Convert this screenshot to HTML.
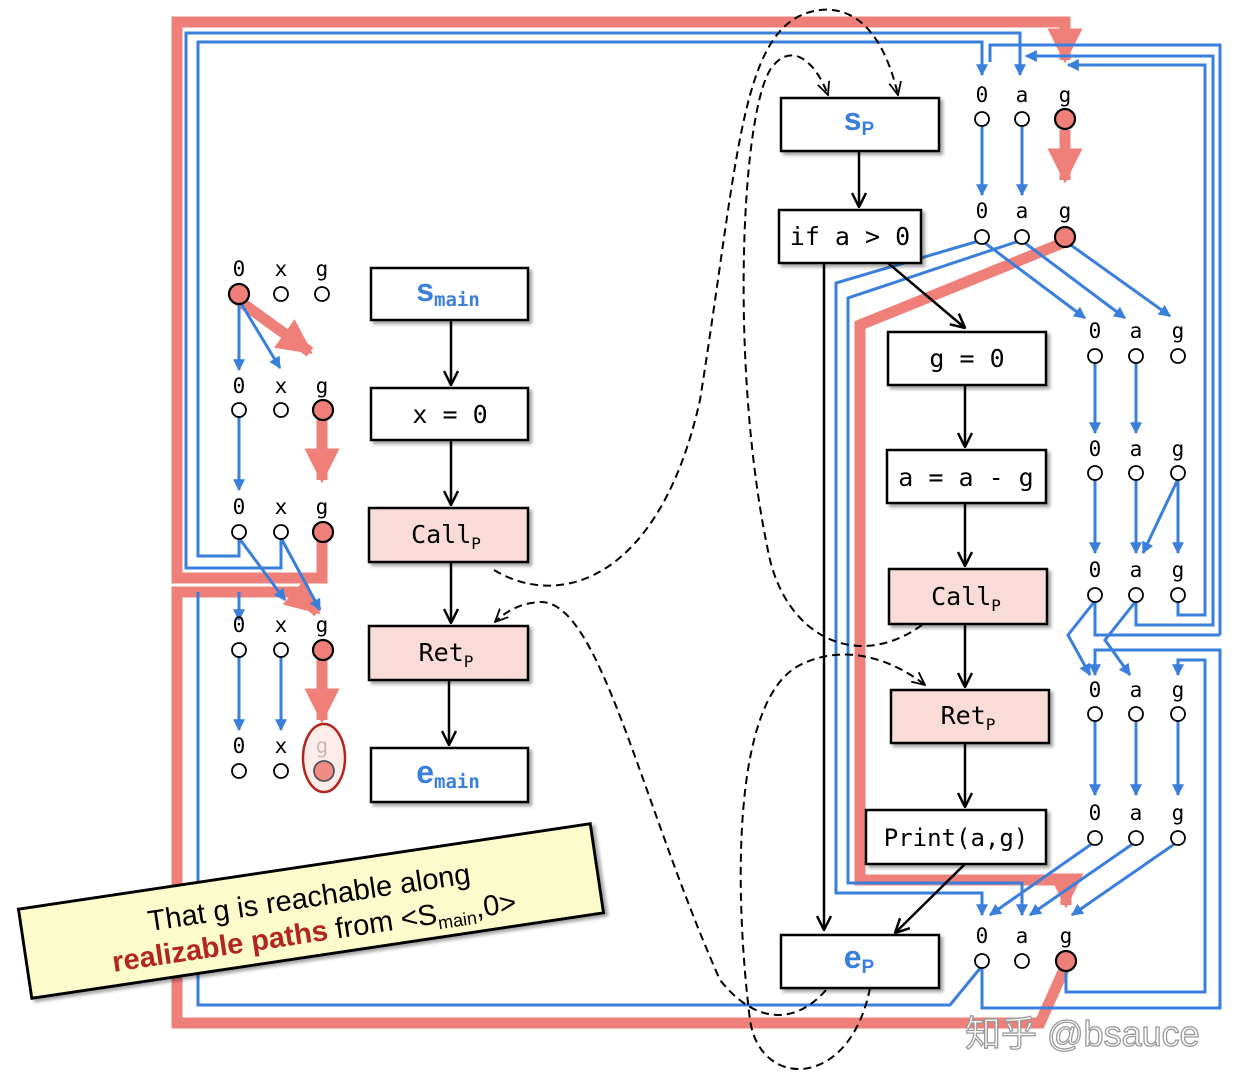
<!DOCTYPE html>
<html><head><meta charset="utf-8"><style>
html,body{margin:0;padding:0;background:#fff;}
svg{display:block;font-family:"Liberation Sans","DejaVu Sans",sans-serif;}
.m{font-family:"DejaVu Sans Mono","Liberation Mono",monospace;}
.sl{font-family:"Liberation Sans",sans-serif;font-weight:bold;fill:#3a7fdc;}
</style></head><body>
<svg width="1240" height="1084" viewBox="0 0 1240 1084" xmlns="http://www.w3.org/2000/svg">
<defs>
<marker id="b" viewBox="0 0 10 10" refX="9" refY="5" markerWidth="4" markerHeight="4" orient="auto"><path d="M0,0L10,5L0,10z" fill="#3a7fdc"/></marker>
<marker id="k" viewBox="0 0 16 16" refX="15" refY="8" markerWidth="16" markerHeight="16" markerUnits="userSpaceOnUse" orient="auto"><path d="M1,1L15,8L1,15" fill="none" stroke="#000" stroke-width="2.5"/></marker>
<marker id="kb" viewBox="0 0 14 14" refX="13" refY="7" markerWidth="14" markerHeight="14" markerUnits="userSpaceOnUse" orient="auto"><path d="M0,1L13,7L0,13" fill="none" stroke="#000" stroke-width="1.8"/></marker>
<marker id="r" viewBox="0 0 10 10" refX="9" refY="5" markerWidth="3.2" markerHeight="3.2" orient="auto"><path d="M0,0L10,5L0,10z" fill="#ef8079"/></marker>
<filter id="sh"><feDropShadow dx="3" dy="3" stdDeviation="1.5" flood-color="#000" flood-opacity="0.35"/></filter>
</defs>

<g fill="none" stroke="#ef8079" stroke-width="11" stroke-linejoin="miter">
<path d="M322,540 V578 H177 V22 H1065 V60" marker-end="url(#r)"/>
<path d="M1066,965 L1040,1023 H177 V592 H295 L318,612" marker-end="url(#r)"/>
<path d="M1065,242 L860,325 V880 H1066 V905" marker-end="url(#r)"/>
<path d="M238,300 L310,352" marker-end="url(#r)"/>
<path d="M322,420 V480" marker-end="url(#r)"/>
<path d="M322,660 V720" marker-end="url(#r)"/>
<path d="M1065,130 V180" marker-end="url(#r)"/>
</g>

<g fill="none" stroke="#3a7fdc" stroke-width="3">
<path d="M239,538 V556 H198 V42 H982 V75" marker-end="url(#b)"/>
<path d="M281,538 V568 H186 V33 H1020 V75" marker-end="url(#b)"/>
<path d="M982,966 L950,1005 H198 V592 M239,592 V620" marker-end="url(#b)"/>
<path d="M239,300 V370" marker-end="url(#b)"/>
<path d="M239,300 L280,368" marker-end="url(#b)"/>
<path d="M239,416 V490" marker-end="url(#b)"/>
<path d="M239,538 L285,600" marker-end="url(#b)"/>
<path d="M281,538 L320,610" marker-end="url(#b)"/>
<path d="M239,656 V730" marker-end="url(#b)"/>
<path d="M281,656 V730" marker-end="url(#b)"/>
<path d="M982,125 V195" marker-end="url(#b)"/>
<path d="M1022,125 V195" marker-end="url(#b)"/>
<path d="M985,243 L1085,318" marker-end="url(#b)"/>
<path d="M1025,243 L1125,318" marker-end="url(#b)"/>
<path d="M1068,243 L1170,316" marker-end="url(#b)"/>
<path d="M982,240 L836,283 V893 H982 V915" marker-end="url(#b)"/>
<path d="M1022,240 L848,298 V883 H1022 V915" marker-end="url(#b)"/>
<path d="M1095,362 V433" marker-end="url(#b)"/>
<path d="M1136,362 V433" marker-end="url(#b)"/>
<path d="M1095,479 V553" marker-end="url(#b)"/>
<path d="M1136,479 V553" marker-end="url(#b)"/>
<path d="M1178,479 V553" marker-end="url(#b)"/>
<path d="M1178,479 L1143,553" marker-end="url(#b)"/>
<path d="M1178,601 V615 H1205 V65 H1068" marker-end="url(#b)"/>
<path d="M1136,601 V625 H1213 V56 H1026" marker-end="url(#b)"/>
<path d="M1220,635 V45 H990 V62" />
<path d="M1095,601 V635 H1220"/>
<path d="M1095,601 L1068,635 L1090,675" marker-end="url(#b)"/>
<path d="M1136,601 L1105,640 L1130,675" marker-end="url(#b)"/>
<path d="M982,966 V1008 H1220 V650 H1095 V675" marker-end="url(#b)"/>
<path d="M1066,966 V992 H1205 V660 H1178 V675" marker-end="url(#b)"/>
<path d="M1095,720 V795" marker-end="url(#b)"/>
<path d="M1136,720 V795" marker-end="url(#b)"/>
<path d="M1178,720 V795" marker-end="url(#b)"/>
<path d="M1093,843 L990,915" marker-end="url(#b)"/>
<path d="M1134,843 L1030,915" marker-end="url(#b)"/>
<path d="M1176,843 L1072,915" marker-end="url(#b)"/>
</g>

<g stroke="#000" stroke-width="2.5" fill="none">
<path d="M451,320 V385" marker-end="url(#k)"/>
<path d="M451,440 V505" marker-end="url(#k)"/>
<path d="M451,562 V623" marker-end="url(#k)"/>
<path d="M449,680 V745" marker-end="url(#k)"/>
<path d="M859,151 V207" marker-end="url(#k)"/>
<path d="M888,263 L965,328" marker-end="url(#k)"/>
<path d="M824,263 V930" marker-end="url(#k)"/>
<path d="M965,385 V447" marker-end="url(#k)"/>
<path d="M965,503 V566" marker-end="url(#k)"/>
<path d="M965,624 V687" marker-end="url(#k)"/>
<path d="M965,743 V807" marker-end="url(#k)"/>
<path d="M965,864 L895,933" marker-end="url(#k)"/>
</g>

<g stroke="#000" stroke-width="2" fill="none" stroke-dasharray="8,5">
<path d="M494,570 C560,610 660,580 700,400 C740,150 740,20 820,10 C870,5 890,60 898,95" marker-end="url(#kb)"/>
<path d="M922,625 C860,670 790,640 770,560 C730,380 740,120 770,70 C790,40 815,60 828,95" marker-end="url(#kb)"/>
<path d="M826,990 C800,1020 760,1030 720,980 C640,800 600,600 540,602 C520,603 505,612 495,622" marker-end="url(#kb)"/>
<path d="M870,988 C850,1090 760,1090 750,1020 C735,900 730,700 800,665 C850,640 900,665 925,685" marker-end="url(#kb)"/>
</g>

<g stroke="#000" stroke-width="2.5" filter="url(#sh)">
<rect x="371" y="268" width="157" height="52" fill="#fff"/>
<rect x="371" y="388" width="157" height="52" fill="#fff"/>
<rect x="369" y="508" width="159" height="54" fill="#f9dcd8"/>
<rect x="369" y="626" width="159" height="54" fill="#f9dcd8"/>
<rect x="371" y="748" width="157" height="54" fill="#fff"/>
<rect x="781" y="98" width="158" height="53" fill="#fff"/>
<rect x="779" y="210" width="142" height="53" fill="#fff"/>
<rect x="888" y="332" width="158" height="53" fill="#fff"/>
<rect x="887" y="450" width="159" height="53" fill="#fff"/>
<rect x="889" y="569" width="158" height="55" fill="#f9dcd8"/>
<rect x="891" y="690" width="158" height="53" fill="#f9dcd8"/>
<rect x="866" y="810" width="180" height="54" fill="#fff"/>
<rect x="781" y="935" width="158" height="53" fill="#fff"/>
</g>
<g class="m" font-size="25" text-anchor="middle">
<text x="448" y="301" class="sl" style="font-size:32px;font-family:'Liberation Sans',sans-serif">s<tspan dy="5" style="font-size:19px;font-family:'DejaVu Sans Mono',monospace">main</tspan></text>
<text x="450" y="423">x = 0</text>
<text x="446" y="543">Call<tspan font-size="16" dy="6">P</tspan></text>
<text x="446" y="661">Ret<tspan font-size="16" dy="6">P</tspan></text>
<text x="448" y="783" class="sl" style="font-size:32px;font-family:'Liberation Sans',sans-serif">e<tspan dy="5" style="font-size:19px;font-family:'DejaVu Sans Mono',monospace">main</tspan></text>
<text x="859" y="130" class="sl" style="font-size:32px;font-family:'Liberation Sans',sans-serif">s<tspan dy="5" style="font-size:19px">P</tspan></text>
<text x="850" y="245">if a &gt; 0</text>
<text x="967" y="367">g = 0</text>
<text x="966" y="486">a = a - g</text>
<text x="966" y="605">Call<tspan font-size="16" dy="6">P</tspan></text>
<text x="968" y="724">Ret<tspan font-size="16" dy="6">P</tspan></text>
<text x="956" y="846" font-size="24">Print(a,g)</text>
<text x="859" y="968" class="sl" style="font-size:32px;font-family:'Liberation Sans',sans-serif">e<tspan dy="5" style="font-size:19px">P</tspan></text>
</g>

<g font-size="21" text-anchor="middle" class="m">
<text x="239" y="276">0</text><text x="281" y="276">x</text><text x="322" y="276">g</text>
<text x="239" y="393">0</text><text x="281" y="393">x</text><text x="322" y="393">g</text>
<text x="239" y="514">0</text><text x="281" y="514">x</text><text x="322" y="514">g</text>
<text x="239" y="632">0</text><text x="281" y="632">x</text><text x="322" y="632">g</text>
<text x="239" y="753">0</text><text x="281" y="753">x</text><text x="322" y="753" fill="#999">g</text>
<text x="982" y="102">0</text><text x="1022" y="102">a</text><text x="1065" y="102">g</text>
<text x="982" y="218">0</text><text x="1022" y="218">a</text><text x="1065" y="218">g</text>
<text x="982" y="943">0</text><text x="1022" y="943">a</text><text x="1066" y="943">g</text>
<text x="1095" y="338">0</text><text x="1136" y="338">a</text><text x="1178" y="338">g</text>
<text x="1095" y="456">0</text><text x="1136" y="456">a</text><text x="1178" y="456">g</text>
<text x="1095" y="577">0</text><text x="1136" y="577">a</text><text x="1178" y="577">g</text>
<text x="1095" y="697">0</text><text x="1136" y="697">a</text><text x="1178" y="697">g</text>
<text x="1095" y="820">0</text><text x="1136" y="820">a</text><text x="1178" y="820">g</text>
</g>
<ellipse cx="324" cy="758" rx="21" ry="34" fill="rgba(249,220,216,0.5)" stroke="#b3261e" stroke-width="2.5"/>
<g fill="#fff" stroke="#000" stroke-width="1.8">
<circle cx="239" cy="294" r="10" fill="#ef8079" stroke-width="2.2"/><circle cx="281" cy="294" r="7"/><circle cx="322" cy="294" r="7"/>
<circle cx="239" cy="410" r="7"/><circle cx="281" cy="410" r="7"/><circle cx="323" cy="410" r="10" fill="#ef8079" stroke-width="2.2"/>
<circle cx="239" cy="532" r="7"/><circle cx="281" cy="532" r="7"/><circle cx="323" cy="532" r="10" fill="#ef8079" stroke-width="2.2"/>
<circle cx="239" cy="650" r="7"/><circle cx="281" cy="650" r="7"/><circle cx="323" cy="650" r="10" fill="#ef8079" stroke-width="2.2"/>
<circle cx="239" cy="771" r="7"/><circle cx="281" cy="771" r="7"/><circle cx="324" cy="771" r="10" fill="#ef8c86" stroke="#555"/>
<circle cx="982" cy="119" r="7"/><circle cx="1022" cy="119" r="7"/><circle cx="1065" cy="119" r="10" fill="#ef8079" stroke-width="2.2"/>
<circle cx="982" cy="237" r="7"/><circle cx="1022" cy="237" r="7"/><circle cx="1065" cy="237" r="10" fill="#ef8079" stroke-width="2.2"/>
<circle cx="982" cy="961" r="7"/><circle cx="1022" cy="961" r="7"/><circle cx="1066" cy="961" r="10" fill="#ef8079" stroke-width="2.2"/>
<circle cx="1095" cy="356" r="7"/><circle cx="1136" cy="356" r="7"/><circle cx="1178" cy="356" r="7"/>
<circle cx="1095" cy="473" r="7"/><circle cx="1136" cy="473" r="7"/><circle cx="1178" cy="473" r="7"/>
<circle cx="1095" cy="595" r="7"/><circle cx="1136" cy="595" r="7"/><circle cx="1178" cy="595" r="7"/>
<circle cx="1095" cy="714" r="7"/><circle cx="1136" cy="714" r="7"/><circle cx="1178" cy="714" r="7"/>
<circle cx="1095" cy="838" r="7"/><circle cx="1136" cy="838" r="7"/><circle cx="1178" cy="838" r="7"/>
</g>

<g transform="translate(311,911) rotate(-8.5)">
<rect x="-289" y="-45" width="578" height="90" fill="#fbfbcb" stroke="#000" stroke-width="3" filter="url(#sh)"/>
<text x="0" y="-4" text-anchor="middle" font-size="29">That g is reachable along</text>
<text x="0" y="31" text-anchor="middle" font-size="29"><tspan fill="#b3261e" font-weight="bold">realizable paths</tspan> from &lt;S<tspan font-size="18" dy="6">main</tspan><tspan dy="-6">,0&gt;</tspan></text>
</g>

<text x="965" y="1046" font-size="36" fill="#fff" stroke="#999" stroke-width="1.3" font-family="Liberation Sans, Noto Sans CJK SC, sans-serif">知乎 @bsauce</text>
</svg>
</body></html>
